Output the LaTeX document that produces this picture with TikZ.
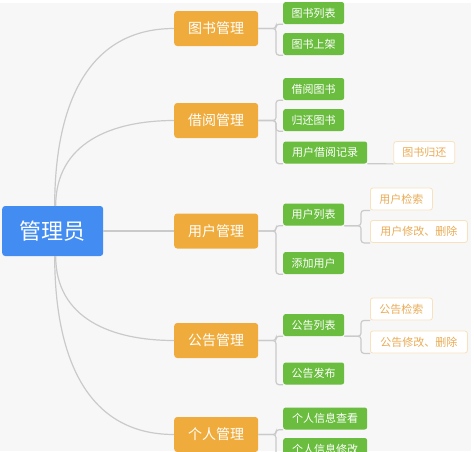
\documentclass[tikz,border=0pt]{standalone}
\usepackage{xcolor}
\usepackage{fontspec}
\usepackage{tikz}
\usetikzlibrary{positioning, calc, backgrounds}
\newfontfamily\cjk{Noto Sans CJK SC}
\definecolor{rootblue}{RGB}{66,140,242}
\definecolor{topicorange}{RGB}{239,172,60}
\definecolor{itemgreen}{RGB}{106,189,62}
\definecolor{leafedge}{RGB}{248,226,190}
\definecolor{leaftext}{RGB}{234,172,86}
\definecolor{linkgray}{RGB}{202,202,202}
\definecolor{canvas}{RGB}{247,247,247}

\begin{document}
\begin{tikzpicture}[
  x=1pt, y=-1pt,
  rootbox/.style={
    rectangle, rounded corners=3pt,
    fill=rootblue, text=white,
    minimum width=101pt, minimum height=50pt,
    inner sep=0pt, anchor=west,
    font=\cjk\fontsize{22}{24}\selectfont,
  },
  topicbox/.style={
    rectangle, rounded corners=3pt,
    fill=topicorange, text=white,
    minimum width=84pt, minimum height=35pt,
    inner sep=0pt, anchor=west,
    font=\cjk\fontsize{14}{16}\selectfont,
  },
  itembox/.style={
    rectangle, rounded corners=2.5pt,
    fill=itemgreen, text=white,
    minimum width=61pt, minimum height=22pt,
    inner sep=0pt, anchor=west,
    font=\cjk\fontsize{11}{13}\selectfont,
  },
  leafbox/.style={
    rectangle, rounded corners=2.5pt,
    fill=white, draw=leafedge, line width=0.8pt, text=leaftext,
    minimum width=62pt, minimum height=22pt,
    inner sep=0pt, anchor=west,
    font=\cjk\fontsize{11}{13}\selectfont,
  },
  link/.style={draw=linkgray, line width=1.2pt, rounded corners=3pt},
]
\useasboundingbox (0,0) rectangle (474,451);

% ── ROOT ─────────────────────────────────────────────────────────────────────
\node[rootbox] (admin) at (2,231) {管理员};

% ── LEVEL 1: topics
\node[topicbox] (bookMgr)   at (174,28.5)  {图书管理};
\node[topicbox] (borrowMgr) at (174,120.5) {借阅管理};
\node[topicbox] (userMgr)   at (174,231)   {用户管理};
\node[topicbox] (noticeMgr) at (174,340.5) {公告管理};
\node[topicbox] (selfMgr)   at (174,434.5) {个人管理};

% ── LEVEL 2: items
\node[itembox] (bookList)   at (283,13)    {图书列表};
\node[itembox] (bookShelf)  at (283,44)    {图书上架};
\node[itembox] (borrowBook) at (283,89)    {借阅图书};
\node[itembox] (returnBook) at (283,120)   {归还图书};
\node[itembox, minimum width=84pt] (borrowRec) at (283,152.5) {用户借阅记录};
\node[itembox] (userList)   at (283,214.5) {用户列表};
\node[itembox] (userAdd)    at (283,263)   {添加用户};
\node[itembox] (noticeList) at (283,325)   {公告列表};
\node[itembox] (noticePub)  at (283,373.5) {公告发布};
\node[itembox, minimum width=84pt] (selfView) at (283,418.5) {个人信息查看};
\node[itembox, minimum width=84pt] (selfEdit) at (283,449)   {个人信息修改};

% ── LEVEL 3: leaves
\node[leafbox, minimum width=61pt, right=26pt of borrowRec] (bookReturn) {图书归还};
\node[leafbox] (userSearch)   at (370,199)   {用户检索};
\node[leafbox, minimum width=97pt] (userEdit)   at (370,231.5) {用户修改、删除};
\node[leafbox] (noticeSearch) at (370,309)   {公告检索};
\node[leafbox, minimum width=97pt] (noticeEdit) at (370,342)   {公告修改、删除};

% ── Root links
\draw[link] (admin.north) ++(2,0) to[out=90, in=180, looseness=1.1] (bookMgr.west);
\draw[link] (admin.north) ++(3,0) to[out=90, in=180, looseness=1.1] (borrowMgr.west);
\draw[link] (admin.east) -- (userMgr.west);
\draw[link] (admin.south) ++(3,0) to[out=-90, in=180, looseness=1.1] (noticeMgr.west);
\draw[link] (admin.south) ++(2,0) to[out=-90, in=180, looseness=1.1] (selfMgr.west);

% ── Topic -> item brackets
\foreach \src/\kid in {bookMgr/bookList, bookMgr/bookShelf,
                       borrowMgr/borrowBook, borrowMgr/returnBook, borrowMgr/borrowRec,
                       userMgr/userList, userMgr/userAdd,
                       noticeMgr/noticeList, noticeMgr/noticePub,
                       selfMgr/selfView, selfMgr/selfEdit}
  \draw[link] (\src.east) -| ($(\kid.south west)+(-7,0)$) -- (\kid.south west);

% ── Item -> leaf brackets
\draw[link] (borrowRec.south east) -- (bookReturn.south west);
\foreach \src/\kid in {userList/userSearch, userList/userEdit,
                       noticeList/noticeSearch, noticeList/noticeEdit}
  \draw[link] (\src.south east) -| ($(\kid.south west)+(-9,0)$) -- (\kid.south west);

% ── Canvas
\begin{pgfonlayer}{background}
  \fill[white] (0,0) rectangle (474,451);
  \fill[canvas] (0,3) rectangle (471,451);
\end{pgfonlayer}

\end{tikzpicture}
\end{document}
